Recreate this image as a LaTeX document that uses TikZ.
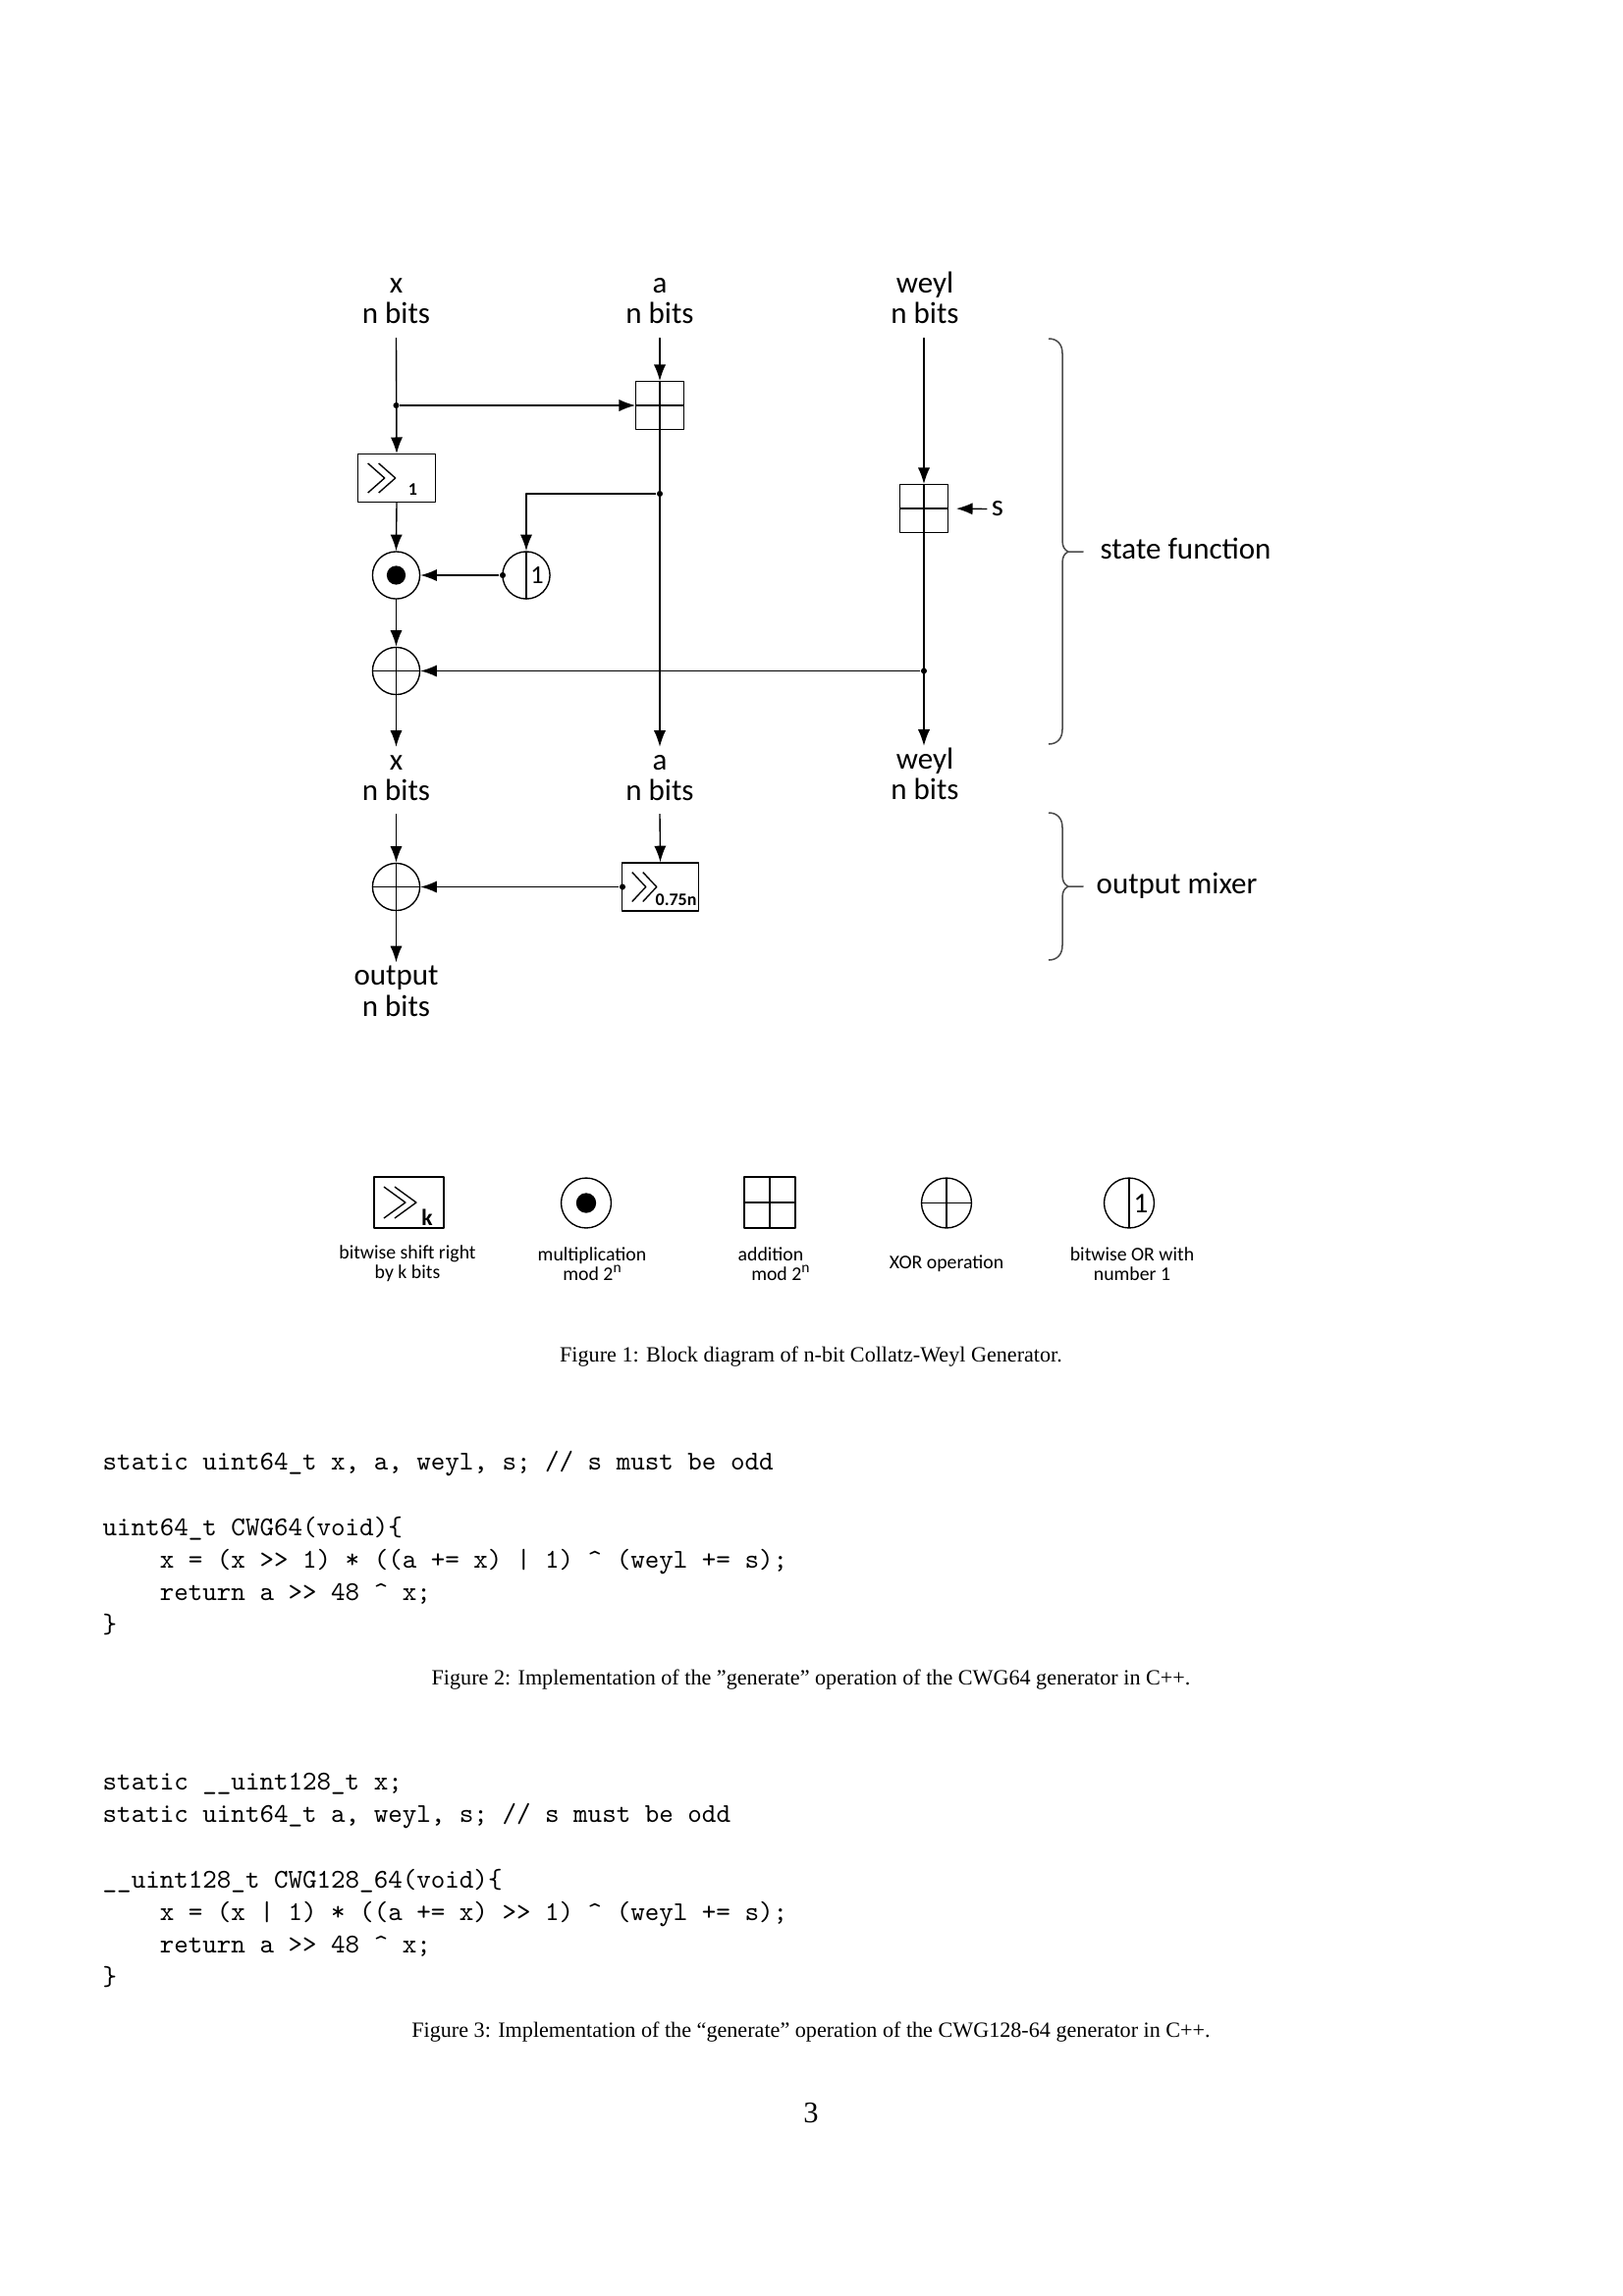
\documentclass[tikz,border=0pt]{standalone}
\usepackage{fontspec}
\usepackage{xcolor}
\usetikzlibrary{arrows.meta, calc}
\setmainfont{Liberation Serif}
\newfontfamily\labelfont{Carlito}
\newcommand{\codeindent}{\ \ \ \ }
\newcommand{\toprow}{\vphantom{l}}
\newcommand{\modtwo}{mod 2\raisebox{0.38em}{\fontsize{5.6}{6}\selectfont n}}
\newcommand{\curlybrace}[3]{
    \draw[bracepen] (1068,#1) .. controls (1077,#1) and (1082,#1+6) .. (1082,#1+15) -- (1082,#2-12)
        .. controls (1082,#2-5) and (1084,#2-2) .. (1088,#2) -- (1103,#2) -- (1088,#2)
        .. controls (1084,#2+2) and (1082,#2+5) .. (1082,#2+12) -- (1082,#3-15)
        .. controls (1082,#3-6) and (1077,#3) .. (1068,#3);
}

\begin{document}
\begin{tikzpicture}[
    x=0.3613pt, y=-0.3613pt, line width=0.5pt, line join=round,
    arr/.style={-{Latex[length=6pt,width=4.4pt]}},
    dot/.style={circle, fill=black, inner sep=0pt, minimum size=2.2pt},
    lab/.style={align=center, inner sep=0pt, outer ysep=0.7pt, font=\labelfont\fontsize{11.2}{11.4}\selectfont},
    leg/.style={align=center, inner sep=0pt, font=\labelfont\fontsize{7.15}{7.2}\selectfont},
    figcap/.style={inner sep=0pt, font=\fontsize{8}{10}\selectfont},
    code/.style={anchor=north west, align=left, inner sep=0pt, font=\ttfamily\fontsize{10}{12}\selectfont},
    bracepen/.style={draw=black!70, line width=0.55pt},
    addbox/.style={draw, rectangle, inner sep=0pt, minimum width=#1*1pt, minimum height=#1*1pt,
        path picture={
            \draw (path picture bounding box.north) -- (path picture bounding box.south);
            \draw (path picture bounding box.west) -- (path picture bounding box.east);
        }},
    xorop/.style={draw, circle, inner sep=0pt, minimum size=#1*1pt,
        path picture={
            \draw (path picture bounding box.north) -- (path picture bounding box.south);
            \draw (path picture bounding box.west) -- (path picture bounding box.east);
        }},
    orop/.style={draw, circle, inner sep=0pt, minimum size=#1*1pt,
        path picture={
            \draw (path picture bounding box.north) -- (path picture bounding box.south);
        }},
    mulop/.style={draw, circle, inner sep=0pt, minimum size=#1*1pt,
        path picture={
            \fill (path picture bounding box.center) circle (#1*0.2pt);
        }},
    shiftbox/.style n args={4}{draw, rectangle, inner sep=0pt, minimum width=#1, minimum height=#2,
        path picture={
            \foreach \d in {0,11} {
                \draw ($(path picture bounding box.west)+(10+\d,-#3)$) -- ++(#4,#3) -- ++(-#4,#3);
            }
        }}
]
    \useasboundingbox (0,0) rectangle (1653,2339);

    % inputs
    \node[lab, anchor=south] (xin) at (403.5,332) {\toprow x\\n bits};
    \node[lab, anchor=south] (ain) at (672,332) {\toprow a\\n bits};
    \node[lab, anchor=south] (wain) at (942,332) {\toprow weyl\\n bits};

    % state function
    \node[dot] (xjoin) at (403.5,413) {};
    \node[addbox=17.5] (aadd) at (672,413) {};
    \node[shiftbox={28.4pt}{17.5pt}{15}{17}] (shiftone) at (404,487) {};
    \node[inner sep=0pt, font=\labelfont\bfseries\fontsize{6.5}{6.5}\selectfont] (shiftonek) at (420.5,499) {1};
    \node[dot] (ajoin) at (672,503) {};
    \node[addbox=17.5] (wadd) at (941,518) {};
    \node[lab] (sin) at (1016,518.5) {s};
    \node[mulop=17.4] (mul) at (403.5,586) {};
    \node[orop=17.4] (orone) at (536,586) {};
    \node[inner sep=0pt, font=\labelfont\fontsize{9.5}{9.5}\selectfont] (oronek) at (547,586) {1};
    \node[dot] (orjoin) at (512,586) {};
    \node[xorop=17.4] (xorone) at (403.5,683.5) {};
    \node[dot] (wjoin) at (941,683.5) {};

    % state values
    \node[lab, anchor=south] (xout) at (403.5,818) {\toprow x\\n bits};
    \node[lab, anchor=south] (aout) at (672,818) {\toprow a\\n bits};
    \node[lab, anchor=south] (waout) at (942,817) {\toprow weyl\\n bits};

    % output mixer
    \node[xorop=17.4] (xortwo) at (403.5,903.5) {};
    \node[shiftbox={28pt}{17.7pt}{15}{14}] (shifttwo) at (672.5,903.5) {};
    \node[inner sep=0pt, font=\labelfont\bfseries\fontsize{6.5}{6.5}\selectfont] (shifttwok) at (688.6,917) {0.75n};
    \node[dot] (shiftjoin) at (634,903.5) {};
    \node[lab, anchor=south] (output) at (403.5,1037.5) {\toprow output\\n bits};

    \draw[arr] (xin.south) ++(0,12) -- (shiftone.north);
    \draw[arr] (xjoin) -- (aadd.west);
    \draw[arr] (ain.south) ++(0,12) -- (aadd.north);
    \draw[arr] (aadd.center) -- (aout.north);
    \draw[arr] (ajoin) -| (orone.north);
    \draw[arr] (orjoin) -- (mul.east);
    \draw[arr] (shiftone.south) -- (mul.north);
    \draw[arr] (mul.south) -- (xorone.north);
    \draw[arr] (xorone.south) -- (xout.north);
    \draw[arr] (wain.south -| wadd.north) ++(0,12) -- (wadd.north);
    \draw[arr] (wadd.center) -- (waout.north -| wadd.south);
    \draw[arr, shorten >=2.9pt] (sin.west) ++(-4,0) -- (wadd.east);
    \draw[arr] (wjoin) -- (xorone.east);
    \draw[arr] (xout.south) ++(0,11) -- (xortwo.north);
    \draw[arr] (aout.south) ++(0,11) -- (shifttwo.north);
    \draw[arr] (shiftjoin) -- (xortwo.east);
    \draw[arr] (xortwo.south) -- (output.north);

    % braces
    \curlybrace{345}{562}{758}
    \curlybrace{828}{903}{978}
    \node[lab, anchor=west] (statelab) at (1120,559) {state function};
    \node[lab, anchor=west] (mixlab) at (1116,902.5) {output mixer};

    % legend
    \node[shiftbox={25.7pt}{18.8pt}{16}{22}] (legshift) at (416.5,1225) {};
    \node[inner sep=0pt, font=\labelfont\bfseries\fontsize{8.5}{8.5}\selectfont] (legshiftk) at (435,1240) {k};
    \node[mulop=18.4] (legmul) at (597,1225.5) {};
    \node[addbox=18.9] (legadd) at (784,1225) {};
    \node[xorop=18.4] (legxor) at (964,1225.5) {};
    \node[orop=18.4] (legor) at (1150,1225.5) {};
    \node[inner sep=0pt, font=\labelfont\fontsize{10.5}{10.5}\selectfont] (legork) at (1162,1226) {1};
    \node[leg] (legshifttxt) at (415,1287.5) {bitwise shift right\\by k bits};
    \node[leg] (legmultxt) at (603,1287.5) {multiplication\\\modtwo};
    \node[leg] (legaddtxt) at (785,1287.5) {addition\\\hspace*{1em}\modtwo};
    \node[leg] (legxortxt) at (964,1287) {XOR operation};
    \node[leg] (legortxt) at (1153,1287.5) {bitwise OR with\\number 1};

    % captions and listings
    \node[figcap] (capone) at (826,1382.5) {Figure 1: Block diagram of n-bit Collatz-Weyl Generator.};
    \node[code] (codeone) at (104,1478) {
        static uint64\_t x, a, weyl, s; // s must be odd\\[12pt]
        uint64\_t CWG64(void)\{\\
        \codeindent x = (x >{}> 1) * ((a += x) | 1) \^{} (weyl += s);\\
        \codeindent return a >{}> 48 \^{} x;\\
        \}
    };
    \node[figcap] (captwo) at (826,1711.5) {Figure 2: Implementation of the ”generate” operation of the CWG64 generator in C++.};
    \node[code] (codetwo) at (104,1805.5) {
        static \_\_uint128\_t x;\\
        static uint64\_t a, weyl, s; // s must be odd\\[12pt]
        \_\_uint128\_t CWG128\_64(void)\{\\
        \codeindent x = (x | 1) * ((a += x) >{}> 1) \^{} (weyl += s);\\
        \codeindent return a >{}> 48 \^{} x;\\
        \}
    };
    \node[figcap] (capthree) at (826,2070.5) {Figure 3: Implementation of the “generate” operation of the CWG128-64 generator in C++.};
    \node[figcap, font=\fontsize{11}{13}\selectfont] (pagenum) at (826,2153) {3};
\end{tikzpicture}
\end{document}
